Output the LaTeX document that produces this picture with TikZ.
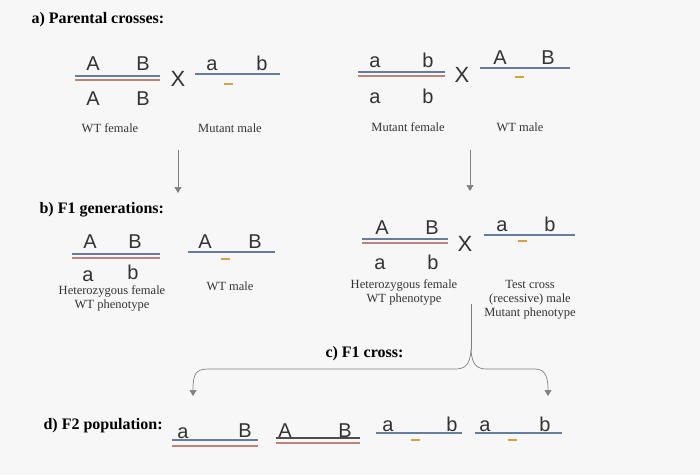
\documentclass[tikz,border=0pt]{standalone}
\usepackage{fontspec}
\setmainfont{Liberation Serif}
\newfontfamily\gsans{Liberation Sans}
\usetikzlibrary{arrows.meta}
\definecolor{ychr}{RGB}{215,160,70}
\definecolor{bchr}{RGB}{100,125,160}
\definecolor{rchr}{RGB}{190,130,120}
\begin{document}
\begin{tikzpicture}[x=1pt,y=-1pt,
  al/.style={font=\gsans\fontsize{20}{20}\selectfont,text=black!80,inner sep=0pt,anchor=base},
  lab/.style={font=\fontsize{12.5}{14}\selectfont,text=black!80,align=center,inner sep=1pt},
  head/.style={font=\bfseries\fontsize{16}{18}\selectfont,anchor=west},
  xm/.style={font=\gsans\fontsize{22}{22}\selectfont,text=black!80},
  bl/.style={draw=bchr,line width=1.1pt},
  rd/.style={draw=rchr,line width=1.1pt},
  ydash/.style={draw=ychr,line width=1.3pt},
  arr/.style={draw=gray,line width=0.7pt,-{Triangle[length=6pt,width=7pt]}}]
\fill[gray!6] (0,0) rectangle (700,475);
\useasboundingbox (0,0) rectangle (700,475);
% a)
\node[head] (ha) at (28,20) {a) Parental crosses:};
\node[al] (a1) at (93,70) {A}; \node[al] (a2) at (143,70) {B};
\draw[bl] (75,76) -- (160,76); \draw[rd] (75,80) -- (160,80);
\node[al] (a3) at (93,105) {A}; \node[al] (a4) at (143,105) {B};
\node[xm] (x1) at (178,79) {X};
\node[al] (a5) at (212,70) {a}; \node[al] (a6) at (262,70) {b};
\draw[bl] (195,74) -- (280,74); \draw[ydash] (224,84) -- (233,84);
\node[lab] (l1) at (110,128) {WT female};
\node[lab] (l2) at (230,128) {Mutant male};
\node[al] (c1) at (375,67) {a}; \node[al] (c2) at (428,67) {b};
\draw[bl] (358,72) -- (445,72); \draw[rd] (358,76) -- (445,76);
\node[al] (c3) at (375,103) {a}; \node[al] (c4) at (428,103) {b};
\node[xm] (x2) at (462,75) {X};
\node[al] (c5) at (500,64) {A}; \node[al] (c6) at (548,64) {B};
\draw[bl] (480,68) -- (570,68); \draw[ydash] (515,77) -- (524,77);
\node[lab] (l3) at (408,127) {Mutant female};
\node[lab] (l4) at (520,127) {WT male};
\coordinate (s1) at (178,150); \coordinate (e1) at (178,193);
\coordinate (s2) at (470,150); \coordinate (e2) at (470,191);
\draw[arr] (s1) -- (e1); \draw[arr] (s2) -- (e2);
% b)
\node[head] (hb) at (36,210) {b) F1 generations:};
\node[al] (b1) at (90,248) {A}; \node[al] (b2) at (135,248) {B};
\draw[bl] (72,254) -- (160,254); \draw[rd] (72,258) -- (160,258);
\node[al] (b3) at (88,281) {a}; \node[al] (b4) at (133,279) {b};
\node[lab] (l5) at (112,298) {Heterozygous female\\WT phenotype};
\node[al] (b5) at (205,248) {A}; \node[al] (b6) at (255,248) {B};
\draw[bl] (188,252) -- (275,252); \draw[ydash] (221,259) -- (230,259);
\node[lab] (l6) at (230,286) {WT male};
\node[al] (d1) at (382,234) {A}; \node[al] (d2) at (432,234) {B};
\draw[bl] (362,239) -- (448,239); \draw[rd] (362,243) -- (448,243);
\node[al] (d3) at (380,269) {a}; \node[al] (d4) at (433,269) {b};
\node[xm] (x3) at (465,244) {X};
\node[al] (d5) at (502,231) {a}; \node[al] (d6) at (550,231) {b};
\draw[bl] (484,235) -- (575,235); \draw[ydash] (518,241) -- (527,241);
\node[lab] (l7) at (404,292) {Heterozygous female\\WT phenotype};
\node[lab] (l8) at (530,300) {Test cross\\(recessive) male\\Mutant phenotype};
% c)
\node[head] (hc) at (322,354) {c) F1 cross:};
\coordinate (top) at (471,304); \coordinate (mid) at (471,350);
\coordinate (eL) at (193,396); \coordinate (eR) at (548,396);
\draw[gray,line width=0.7pt] (top) -- (mid);
\draw[arr] (mid) .. controls (470,365) and (465,369) .. (455,369) -- (208,369) .. controls (195,369) and (193,375) .. (eL);
\draw[arr] (mid) .. controls (472,365) and (477,369) .. (487,369) -- (535,369) .. controls (546,369) and (548,378) .. (eR);
% d)
\node[head] (hd) at (40,426) {d) F2 population:};
\node[al] (f1) at (183,438) {a}; \node[al] (f2) at (245,437) {B};
\draw[bl] (172,440) -- (258,440); \draw[rd] (172,446) -- (258,446);
\node[al] (f3) at (285,437) {A}; \node[al] (f4) at (345,437) {B};
\draw[draw=black!70,line width=1.1pt] (276,438) -- (360,438); \draw[rd] (276,443) -- (360,443);
\node[al] (f5) at (388,431) {a}; \node[al] (f6) at (452,431) {b};
\draw[bl] (376,433) -- (462,433); \draw[ydash] (411,440) -- (420,440);
\node[al] (f7) at (485,431) {a}; \node[al] (f8) at (545,431) {b};
\draw[bl] (475,433) -- (562,433); \draw[ydash] (508,440) -- (517,440);
\end{tikzpicture}
\end{document}
